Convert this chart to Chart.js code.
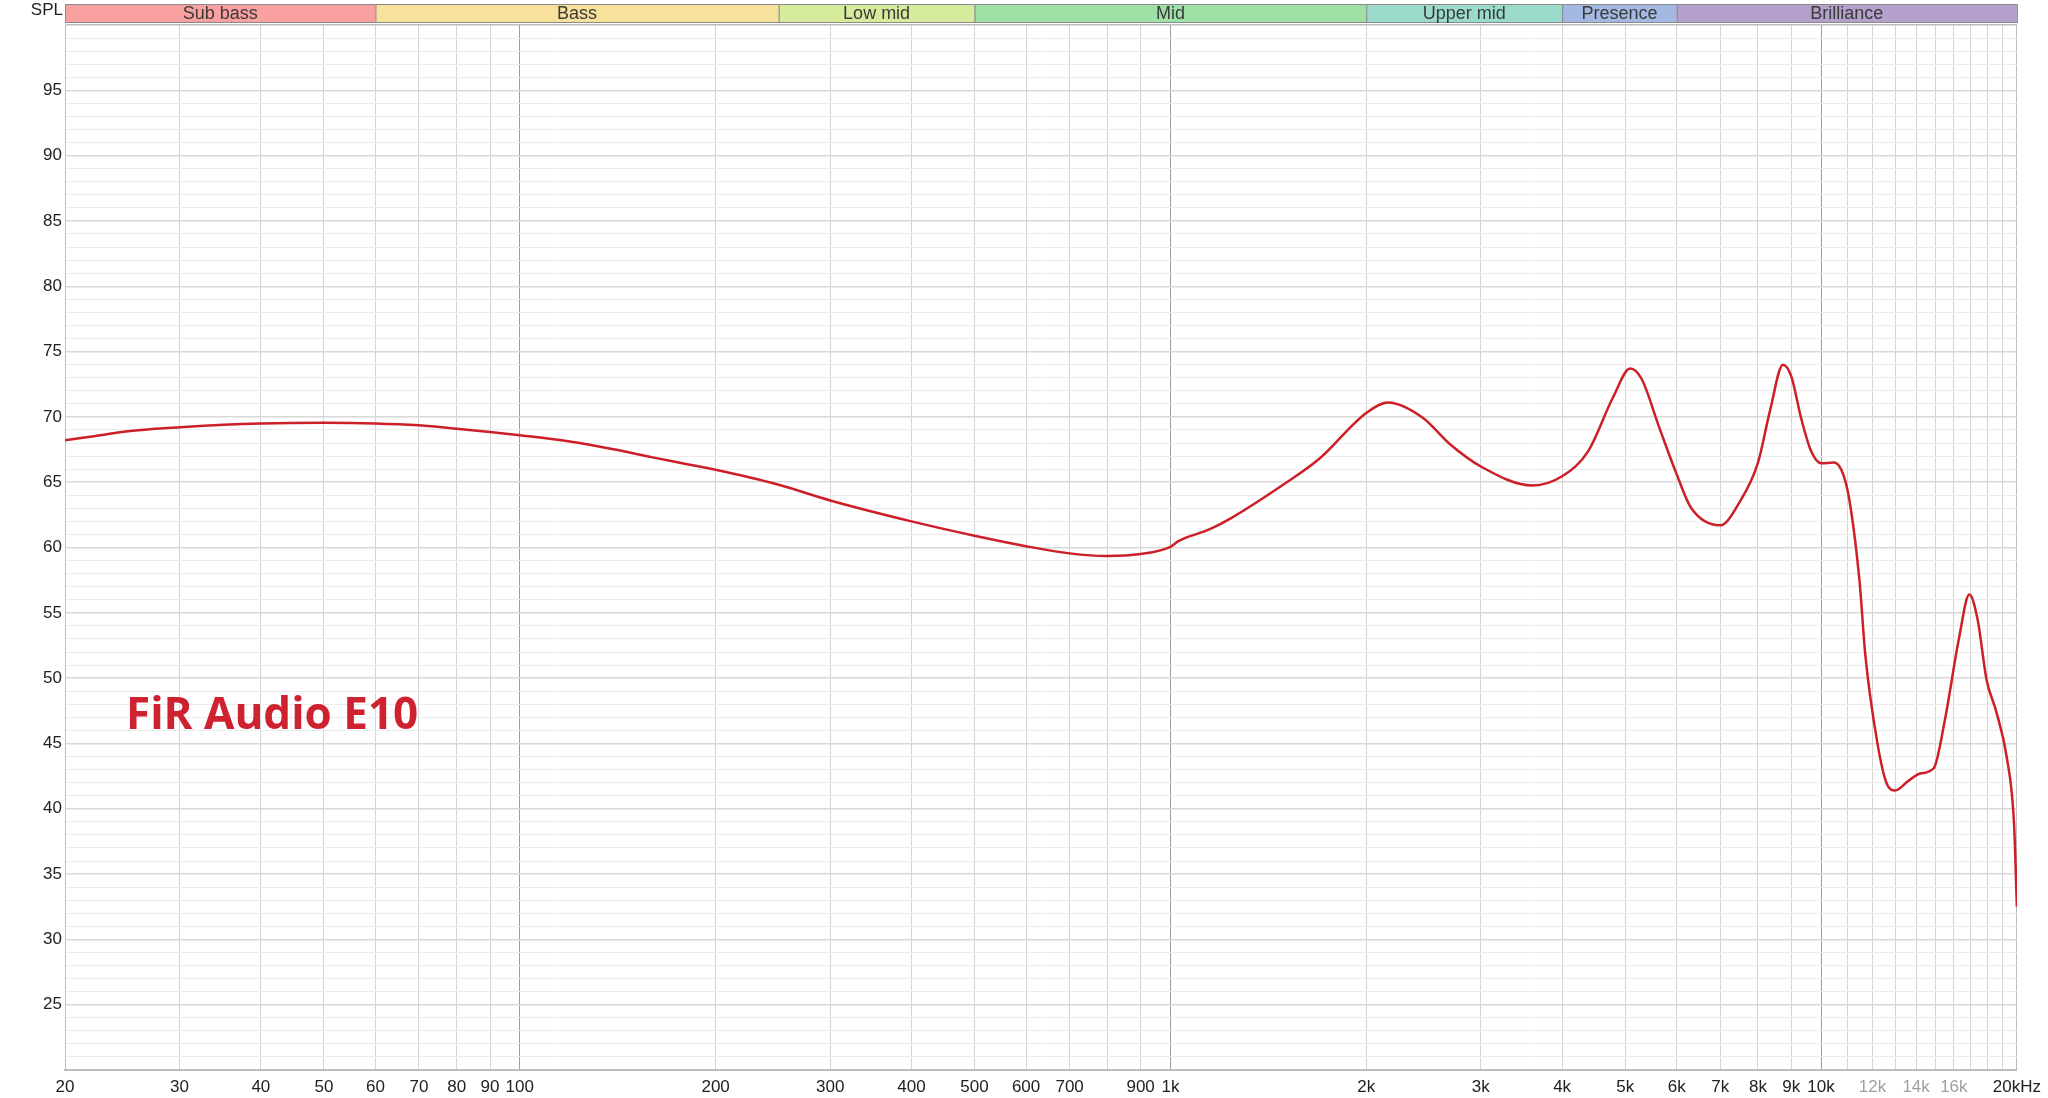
<!DOCTYPE html>
<html>
<head>
<meta charset="utf-8">
<script src="https://cdn.jsdelivr.net/npm/chart.js@4.4.1/dist/chart.umd.min.js"></script>
<style>
  html, body { margin: 0; padding: 0; background: #fff; }
  canvas { display: block; }
</style>
</head>
<body>
<canvas id="frChart" width="2048" height="1098"></canvas>
<script>
// frequency response (Hz / dB SPL)
const freqs = [20, 22, 25, 30, 35, 40, 50, 60, 70, 80, 90, 100, 120, 140, 160, 180, 200, 250, 300, 400,
  500, 600, 700, 800, 900, 1000, 1030, 1150, 1240, 1490, 1690, 2000, 2160, 2440, 2690, 3000, 3600, 4000,
  4390, 4790, 5090, 5300, 5640, 6000, 6320, 7000, 7480, 8000, 8350, 8740, 9000, 9320, 9650, 10000,
  10470, 10850, 11100, 11460, 11700, 12200, 12600, 13000, 13600, 14200, 14900, 15500, 16300, 16900,
  17400, 17960, 18600, 19300, 19800, 20000];
const spl = [68.2, 68.5, 68.9, 69.2, 69.4, 69.5, 69.55, 69.5, 69.35, 69.1, 68.85, 68.6, 68.1, 67.5, 66.9, 66.4, 65.95, 64.8, 63.6, 62.0,
  60.9, 60.1, 59.55, 59.35, 59.5, 60.05, 60.5, 61.4, 62.25, 64.8, 66.75, 70.3, 71.1, 69.95, 67.9, 66.2, 64.75, 65.45,
  67.4, 71.5, 73.7, 72.9, 69.2, 65.6, 63.0, 61.7, 63.4, 66.5, 70.5, 74.0, 73.1, 69.9, 67.4, 66.45,
  66.5, 65.4, 63.1, 57.4, 51.7, 45.1, 42.0, 41.4, 42.1, 42.7, 43.1, 46.8, 53.1, 56.4,
  54.5, 49.9, 47.4, 43.9, 38.8, 32.5];

// vertical grid lines and the labelled ones
const gridFreqs = [20, 30, 40, 50, 60, 70, 80, 90, 100, 200, 300, 400, 500, 600, 700, 800, 900, 1000,
  2000, 3000, 4000, 5000, 6000, 7000, 8000, 9000, 10000, 11000, 12000, 13000, 14000, 15000, 16000,
  17000, 18000, 19000, 20000];
const xLabelFreqs = [20, 30, 40, 50, 60, 70, 80, 90, 100, 200, 300, 400, 500, 600, 700, 900, 1000,
  2000, 3000, 4000, 5000, 6000, 7000, 8000, 9000, 10000, 12000, 14000, 16000, 20000];
const xLabelTexts = ['20', '30', '40', '50', '60', '70', '80', '90', '100', '200', '300', '400', '500', '600', '700', '900', '1k',
  '2k', '3k', '4k', '5k', '6k', '7k', '8k', '9k', '10k', '12k', '14k', '16k', '20kHz'];
const greyLabelFreqs = [12000, 14000, 16000];
const decadeFreqs = [100, 1000, 10000];

const yMin = 20;
const yMax = 100;
const yLabelValues = [25, 30, 35, 40, 45, 50, 55, 60, 65, 70, 75, 80, 85, 90, 95];

// frequency bands along the top
const bandNames = ['Sub bass', 'Bass', 'Low mid', 'Mid', 'Upper mid', 'Presence', 'Brilliance'];
const bandEdges = [20, 60, 250, 500, 2000, 4000, 6000, 20000];
const bandColors = ['#f9a0a0', '#f7e19b', '#d6eb9c', '#9fe0a6', '#9bdbcc', '#a3b8e2', '#b3a1cb'];

const modelName = 'FiR Audio E10';

const overlay = {
  id: 'overlay',
  afterDraw(chart) {
    const ctx = chart.ctx;
    const x = chart.scales.x;
    const area = chart.chartArea;
    ctx.save();

    // band strip
    const top = 4, bottom = 22;
    ctx.font = '18px "Liberation Sans", Arial, sans-serif';
    ctx.textAlign = 'center';
    ctx.textBaseline = 'middle';
    for (let i = 0; i < bandNames.length; i++) {
      const x0 = x.getPixelForValue(bandEdges[i]);
      const x1 = x.getPixelForValue(bandEdges[i + 1]);
      ctx.fillStyle = bandColors[i];
      ctx.fillRect(x0, top, x1 - x0, bottom - top);
      ctx.strokeStyle = '#8a8a8a';
      ctx.lineWidth = 1;
      ctx.strokeRect(x0 + 0.5, top + 0.5, x1 - x0, bottom - top);
      ctx.fillStyle = '#3a3a3a';
      ctx.fillText(bandNames[i], (x0 + x1) / 2, (top + bottom) / 2 + 1);
    }

    // axis name
    ctx.font = '17px "Liberation Sans", Arial, sans-serif';
    ctx.textAlign = 'right';
    ctx.fillStyle = '#222';
    ctx.fillText('SPL', area.left - 2, 10);

    // model name
    ctx.font = 'bold 44px "Open Sans", sans-serif';
    ctx.textAlign = 'left';
    ctx.textBaseline = 'alphabetic';
    ctx.fillStyle = '#cf2230';
    ctx.fillText(modelName, 126, 729);
    ctx.restore();
  }
};

new Chart(document.getElementById('frChart'), {
  type: 'line',
  data: {
    datasets: [{
      label: modelName,
      data: freqs.map((f, i) => ({ x: f, y: spl[i] })),
      borderColor: '#cc1f27',
      borderWidth: 2.5,
      pointRadius: 0,
      cubicInterpolationMode: 'monotone',
      fill: false
    }]
  },
  options: {
    responsive: false,
    animation: false,
    devicePixelRatio: 1,
    layout: { padding: { left: 0, right: 29, top: 25, bottom: 0 } },
    plugins: {
      legend: { display: false },
      tooltip: { enabled: false }
    },
    scales: {
      x: {
        type: 'logarithmic',
        min: 20,
        max: 20000,
        afterBuildTicks: (scale) => {
          scale.ticks = gridFreqs.map(v => ({ value: v }));
        },
        afterFit: (scale) => { scale.height = 28; },
        grid: {
          drawTicks: false,
          color: (c) => {
            const v = c.tick ? c.tick.value : 0;
            if (v === 20000) return '#bdbdbd';
            return decadeFreqs.includes(v) ? '#9c9c9c' : '#d4d4d4';
          },
          lineWidth: 1
        },
        border: { color: '#bdbdbd', width: 2 },
        ticks: {
          autoSkip: false,
          maxRotation: 0,
          padding: 7,
          font: { family: '"Liberation Sans", Arial, sans-serif', size: 17 },
          color: (c) => greyLabelFreqs.includes(c.tick.value) ? '#a0a0a0' : '#222',
          callback: (v) => {
            const i = xLabelFreqs.indexOf(v);
            return i >= 0 ? xLabelTexts[i] : '';
          }
        }
      },
      y: {
        type: 'linear',
        min: yMin,
        max: yMax,
        afterFit: (scale) => { scale.width = 65; },
        grid: {
          drawTicks: false,
          color: (c) => {
            const v = c.tick ? c.tick.value : 0;
            if (v === yMax) return '#bdbdbd';
            return v % 5 === 0 ? '#d9d9d9' : '#ececec';
          },
          lineWidth: (c) => (c.tick && c.tick.value % 5 === 0) ? 1.5 : 1
        },
        border: { color: '#bdbdbd', width: 1 },
        ticks: {
          stepSize: 1,
          autoSkip: false,
          padding: 3,
          font: { family: '"Liberation Sans", Arial, sans-serif', size: 17 },
          color: '#222',
          callback: (v) => yLabelValues.includes(v) ? String(v) : ''
        }
      }
    }
  },
  plugins: [overlay]
});
</script>
</body>
</html>
